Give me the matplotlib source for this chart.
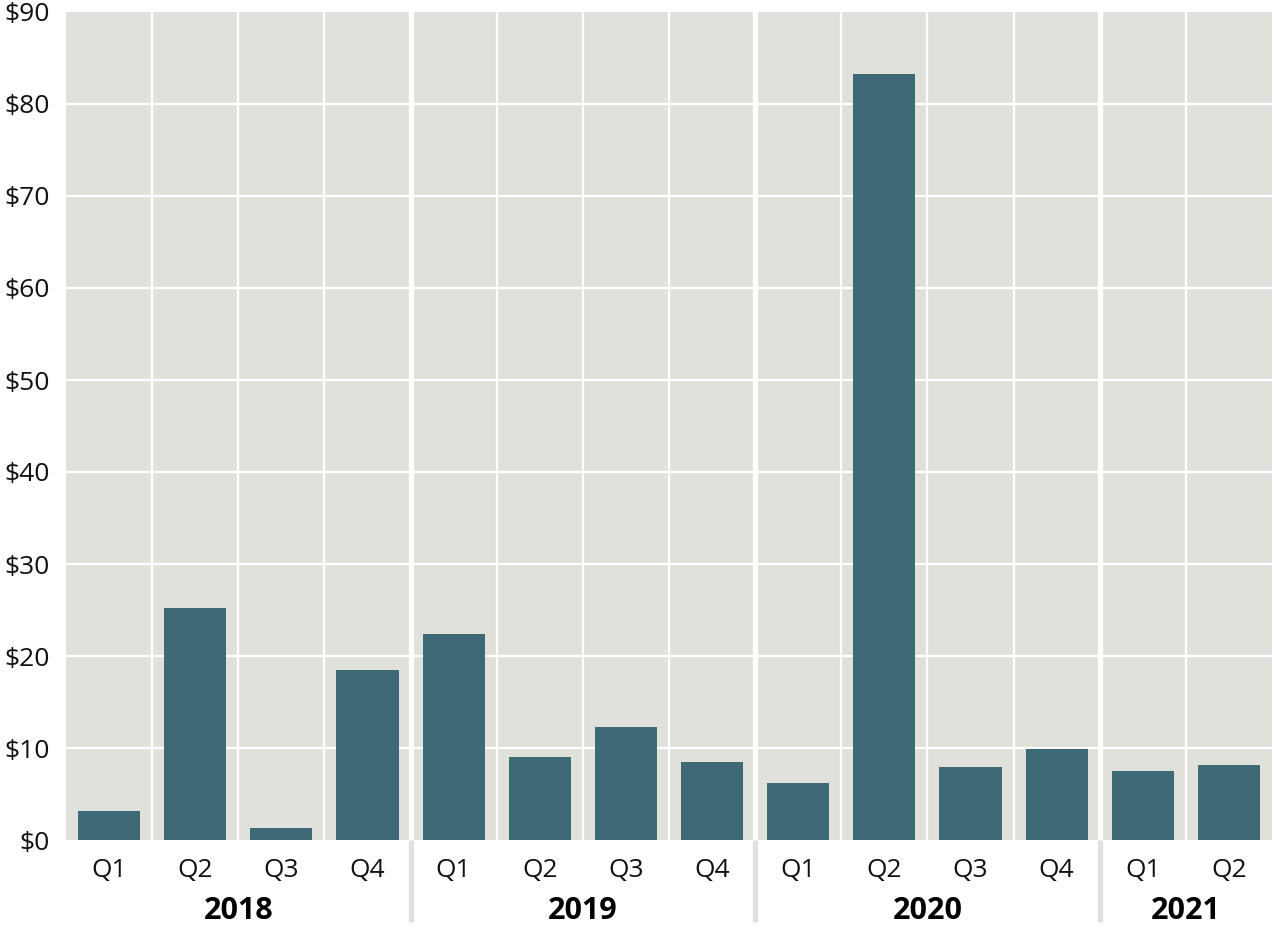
import numpy as np
import matplotlib.pyplot as plt

plt.rcParams['font.family'] = ['Open Sans', 'DejaVu Sans']

years = ['2018', '2019', '2020', '2021']
quarters = ['Q1', 'Q2', 'Q3', 'Q4', 'Q1', 'Q2', 'Q3', 'Q4',
            'Q1', 'Q2', 'Q3', 'Q4', 'Q1', 'Q2']
quarters_per_year = [4, 4, 4, 2]
values = [3.15, 25.2, 1.3, 18.5, 22.4, 9.0, 12.3, 8.5,
          6.2, 83.3, 7.9, 9.9, 7.5, 8.15]

bg = '#e1e1dc'
bar_color = '#3d6a76'

W, H = 1272, 926
fig = plt.figure(figsize=(W / 100, H / 100), dpi=100)
ax = fig.add_axes([66 / W, (H - 840) / H, (W - 66) / W, (840 - 12) / H])
ax.set_facecolor(bg)

x = np.arange(len(values))
ax.set_xlim(-0.5, len(values) - 0.5)
ax.set_ylim(0, 90)

# grid
for yv in range(10, 90, 10):
    ax.axhline(yv, color='white', lw=1.6, zorder=1)
for xv in x[:-1] + 0.5:
    ax.axvline(xv, color='white', lw=1.6, zorder=1)

ax.bar(x, values, width=0.72, color=bar_color, zorder=2)

# year separators
bounds = np.cumsum(quarters_per_year)[:-1] - 0.5
for b in bounds:
    ax.axvline(b, color='white', lw=3.8, zorder=1.5)
    ax.plot([b, b], [0, -0.099], color=bg, lw=3.8, clip_on=False,
            solid_capstyle='butt', transform=ax.get_xaxis_transform())

for s in ax.spines.values():
    s.set_visible(False)

ax.set_yticks(range(0, 91, 10))
ax.set_yticklabels([f'${v}' for v in range(0, 91, 10)])
ax.set_xticks(x)
ax.set_xticklabels(quarters)
ax.tick_params(length=0, labelsize=19, colors='#111111')
ax.tick_params(axis='y', pad=12)
ax.tick_params(axis='x', pad=13)

start = 0
for yr, n in zip(years, quarters_per_year):
    center = start + (n - 1) / 2
    ax.text(center, -0.086, yr, transform=ax.get_xaxis_transform(),
            ha='center', va='center', fontsize=22, fontweight='bold',
            color='black')
    start += n

fig.savefig('out.png', dpi=100)
